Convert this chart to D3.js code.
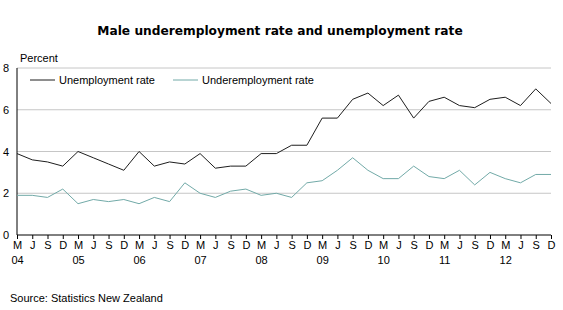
<!DOCTYPE html>
<html>
<head>
<meta charset="utf-8">
<script src="https://cdn.jsdelivr.net/npm/d3@7"></script>
<style>
  body { margin: 0; background: #fff; }
  text { font-family: "Liberation Sans", Arial, sans-serif; }
</style>
</head>
<body>
<div id="chart"></div>
<script>
const W = 563, H = 310;
const margin = { top: 68, right: 12, bottom: 75, left: 17 },
  width = W - margin.left - margin.right,
  height = H - margin.top - margin.bottom;

const quarters = ["M", "J", "S", "D"];
const years = ["04", "05", "06", "07", "08", "09", "10", "11", "12"];
const yTicks = [0, 2, 4, 6, 8];

const unemployment = [
  3.9, 3.6, 3.5, 3.3, 4.0, 3.7, 3.4, 3.1, 4.0, 3.3, 3.5, 3.4,
  3.9, 3.2, 3.3, 3.3, 3.9, 3.9, 4.3, 4.3, 5.6, 5.6, 6.5, 6.8,
  6.2, 6.7, 5.6, 6.4, 6.6, 6.2, 6.1, 6.5, 6.6, 6.2, 7.0, 6.3
];
const underemployment = [
  1.9, 1.9, 1.8, 2.2, 1.5, 1.7, 1.6, 1.7, 1.5, 1.8, 1.6, 2.5,
  2.0, 1.8, 2.1, 2.2, 1.9, 2.0, 1.8, 2.5, 2.6, 3.1, 3.7, 3.1,
  2.7, 2.7, 3.3, 2.8, 2.7, 3.1, 2.4, 3.0, 2.7, 2.5, 2.9, 2.9
];

const periods = [];
years.forEach((y) => quarters.forEach((q) => periods.push({ q, y })));

const series = [
  { name: "Unemployment rate", values: unemployment, color: "#1e1e1e" },
  { name: "Underemployment rate", values: underemployment, color: "#72aaa8" }
];

const svg = d3.select("#chart").append("svg")
  .attr("width", W).attr("height", H);

svg.append("text")
  .attr("x", 280).attr("y", 35)
  .attr("text-anchor", "middle")
  .style("font-family", "'DejaVu Sans', Verdana, sans-serif")
  .style("font-weight", "bold")
  .style("font-size", "12.2px")
  .text("Male underemployment rate and unemployment rate");

const g = svg.append("g")
  .attr("transform", `translate(${margin.left},${margin.top})`);

const x = d3.scaleLinear().domain([0, periods.length - 1]).range([0, width]);
const y = d3.scaleLinear().domain([0, 8]).range([height, 0]);

// gridlines
g.selectAll(".grid")
  .data(yTicks.filter((d) => d > 0))
  .join("line")
  .attr("x1", 0).attr("x2", width)
  .attr("y1", (d) => y(d)).attr("y2", (d) => y(d))
  .attr("stroke", "#c6c6c6").attr("stroke-width", 1);

// y labels
g.selectAll(".ylab")
  .data(yTicks)
  .join("text")
  .attr("x", -14).attr("y", (d) => y(d) + 4)
  .style("font-size", "11px")
  .text((d) => d);

g.append("text")
  .attr("x", 3).attr("y", -6)
  .style("font-size", "11px")
  .text("Percent");

// axes lines
g.append("line").attr("x1", 0).attr("x2", 0)
  .attr("y1", 0).attr("y2", height)
  .attr("stroke", "#000");

const xAxis = d3.axisBottom(x)
  .tickValues(d3.range(periods.length))
  .tickSize(4)
  .tickFormat((i) => periods[i].q);

const ax = g.append("g").attr("transform", `translate(0,${height})`).call(xAxis);
ax.select(".domain").attr("d", `M0,0H${width}`).attr("stroke", "#000");
ax.selectAll(".tick line").attr("stroke", "#000");
ax.selectAll(".tick text")
  .attr("y", 6)
  .style("font-size", "11px")
  .style("font-family", "'Liberation Sans', Arial, sans-serif")
  .attr("fill", "#000");

ax.selectAll(".tick")
  .filter((i) => periods[i].q === "M")
  .append("text")
  .attr("y", 21).attr("dy", "0.71em")
  .attr("fill", "#000")
  .attr("text-anchor", "middle")
  .style("font-size", "11px")
  .style("font-family", "'Liberation Sans', Arial, sans-serif")
  .text((i) => periods[i].y);

// lines
const line = d3.line().x((d, i) => x(i)).y((d) => y(d));
g.selectAll(".series")
  .data(series)
  .join("path")
  .attr("fill", "none")
  .attr("stroke", (d) => d.color)
  .attr("stroke-width", 1)
  .attr("d", (d) => line(d.values));

// legend
const legendX = [13, 156];
const leg = g.selectAll(".leg").data(series).join("g")
  .attr("transform", (d, i) => `translate(${legendX[i]},12)`);
leg.append("line").attr("x1", 0).attr("x2", 25)
  .attr("y1", 0).attr("y2", 0)
  .attr("stroke", (d) => d.color);
leg.append("text").attr("x", 29).attr("y", 4)
  .style("font-size", "11px")
  .text((d) => d.name);

svg.append("text")
  .attr("x", 10).attr("y", 302)
  .style("font-size", "11px")
  .text("Source: Statistics New Zealand");
</script>
</body>
</html>
